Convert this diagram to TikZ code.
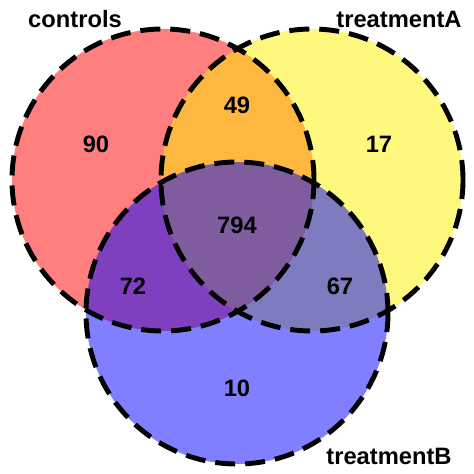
\documentclass[tikz,border=0pt]{standalone}
\usepackage{fontspec}
\setmainfont{Liberation Sans}

\begin{document}
\begin{tikzpicture}[
  x=0.02cm, y=0.02cm,
  setfill/.style={fill opacity=0.5},
  rim/.style={draw=black, line width=2.8pt, dash pattern=on 0.4cm off 0.2cm},
  setname/.style={font=\fontsize{13.5}{16}\selectfont\bfseries},
  count/.style={font=\fontsize{13.5}{16}\selectfont\bfseries}
]
  \useasboundingbox (0,0) rectangle (474,474);

  % Set centres
  \coordinate (ctl) at (163,294);
  \coordinate (tra) at (312,294);
  \coordinate (trb) at (237,161);

  % Fills
  \fill[red, setfill]    (ctl) circle[radius=151];
  \fill[yellow, setfill] (tra) circle[radius=151];
  \fill[blue, setfill]   (trb) circle[radius=151];

  % Outlines
  \draw[rim] (ctl) circle[radius=151];
  \draw[rim] (tra) circle[radius=151];
  \draw[rim] (trb) circle[radius=151];

  % Set names
  \node[setname] (ctlname) at (75,455)  {controls};
  \node[setname] (traname) at (399,455) {treatmentA};
  \node[setname] (trbname) at (389,18)  {treatmentB};

  % Counts
  \node[count] (only-c)  at (96,330)  {90};
  \node[count] (c-a)     at (237,369) {49};
  \node[count] (only-a)  at (379,330) {17};
  \node[count] (c-a-b)   at (237,249) {794};
  \node[count] (c-b)     at (133,188) {72};
  \node[count] (a-b)     at (340,188) {67};
  \node[count] (only-b)  at (237,86)  {10};
\end{tikzpicture}
\end{document}
